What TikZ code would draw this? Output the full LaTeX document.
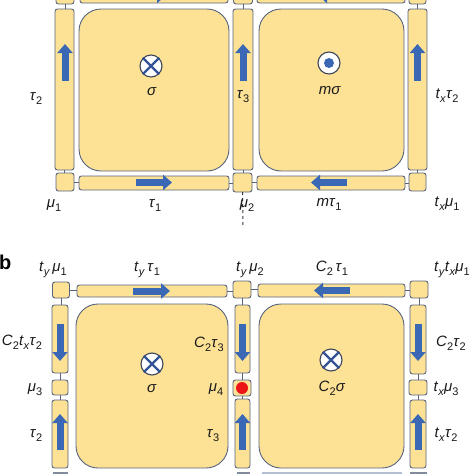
\documentclass[tikz,border=0pt]{standalone}
\usepackage{fontspec}
\setmainfont{Liberation Sans}
\usetikzlibrary{arrows.meta}
\definecolor{boxfill}{RGB}{253,226,150}
\definecolor{edge}{RGB}{88,100,126}
\definecolor{arrowblue}{RGB}{58,104,180}
\definecolor{xblue}{RGB}{52,82,150}
\definecolor{txt}{RGB}{25,25,25}
\definecolor{dotred}{RGB}{236,20,22}
\definecolor{cutgray}{RGB}{130,140,158}
\definecolor{cutlight}{RGB}{178,190,210}
\newcommand\sub[1]{\raisebox{-0.3em}{\fontsize{11}{11}\selectfont #1}}
\newcommand\gi[1]{\textit{#1}}
\begin{document}
\begin{tikzpicture}[x=1pt,y=-1pt,
  box/.style={draw=edge, fill=boxfill, line width=0.9pt, rounded corners=2.5pt, inner sep=0pt, outer sep=0pt},
  bigbox/.style={box, rounded corners=22pt},
  wh/.style 2 args={minimum width=#1pt, minimum height=#2pt},
  conn/.style={draw=edge, line width=0.8pt},
  dashline/.style={draw=edge!55!black, line width=1pt, dash pattern=on 3pt off 3pt},
  blk/.style={draw=arrowblue, line width=7pt, -{Triangle[width=15pt,length=9pt]}},
  lbl/.style={anchor=base, inner sep=0pt, font=\fontsize{15}{15}\selectfont, text=txt},
  otim/.style={circle, draw=edge!70!black, fill=white, line width=1.1pt, minimum size=22pt, inner sep=0pt},
  xline/.style={draw=xblue, line width=2.2pt},
  cut/.style={draw=none, fill=cutgray, inner sep=0pt}
]
\useasboundingbox (0,0) rectangle (474,474);

% ---------------- panel a ----------------
\node[box, wh={18}{18}] (aT1) at (65,-5) {};
\node[box, wh={148}{14}] (aTb1) at (154,-4) {};
\node[box, wh={19}{18}] (aT2) at (243,-5) {};
\node[box, wh={148}{14}] (aTb2) at (331,-4) {};
\node[box, wh={17}{18}] (aT3) at (417.5,-5) {};

\node[box, wh={19}{161}] (aV1) at (64.5,89.5) {};
\node[box, wh={20}{161}] (aV2) at (243,89.5) {};
\node[box, wh={19}{161}] (aV3) at (417.5,89.5) {};

\node[bigbox, wh={150}{162}] (aS1) at (154,90) {};
\node[bigbox, wh={145}{162}] (aS2) at (331.5,90) {};

\node[box, wh={18}{18}] (aB1) at (65,182) {};
\node[box, wh={19}{19}] (aB2) at (242.5,182.5) {};
\node[box, wh={17}{18}] (aB3) at (417.5,182) {};
\node[box, wh={150}{14}] (aH1) at (154,183) {};
\node[box, wh={148}{14}] (aH2) at (331,183) {};

\draw[conn] (aT1.south) -- (aT1.south |- aV1.north);
\draw[conn] (aT2.south) -- (aT2.south |- aV2.north);
\draw[conn] (aT3.south) -- (aT3.south |- aV3.north);
\draw[conn] (aV1.south) -- (aV1.south |- aB1.north);
\draw[conn] (aV2.south) -- (aV2.south |- aB2.north);
\draw[conn] (aV3.south) -- (aV3.south |- aB3.north);
\draw[conn] (aB1.east) -- (aB1.east -| aH1.west);
\draw[conn] (aH1.east) -- (aH1.east -| aB2.west);
\draw[conn] (aB2.east) -- (aB2.east -| aH2.west);
\draw[conn] (aH2.east) -- (aH2.east -| aB3.west);
\coordinate (dEnd) at (243,226);
\draw[dashline] (aB2.south) -- (dEnd);

\draw[blk] (130,-4.5) -- (166,-4.5);
\draw[blk] (354,-4.5) -- (318,-4.5);
\draw[blk] (65,81) -- (65,44);
\draw[blk] (243,81) -- (243,44);
\draw[blk] (417.5,81) -- (417.5,44);
\draw[blk] (136,182.5) -- (172,182.5);
\draw[blk] (347,182.5) -- (311,182.5);

\node[otim] (aO1) at (151,66) {};
\draw[xline] (aO1.north west) -- (aO1.south east);
\draw[xline] (aO1.north east) -- (aO1.south west);
\node[otim] (aO2) at (329,63) {};
\node[circle, fill=arrowblue, minimum size=10pt, inner sep=0pt] (aD2) at (aO2.center) {};

\node[lbl] (la1) at (36,100) {\gi{τ}\sub{2}};
\node[lbl] (la2) at (152,95) {\gi{σ}};
\node[lbl] (la3) at (330,94) {\gi{mσ}};
\node[lbl] (la4) at (243,98) {\gi{τ}\sub{3}};
\node[lbl] (la5) at (447,98) {\gi{t}\sub{\gi{x}}\gi{τ}\sub{2}};
\node[lbl] (la6) at (54,207) {\gi{μ}\sub{1}};
\node[lbl] (la7) at (155,207) {\gi{τ}\sub{1}};
\node[lbl] (la8) at (247,207) {\gi{μ}\sub{2}};
\node[lbl] (la9) at (329,206) {\gi{mτ}\sub{1}};
\node[lbl] (la10) at (447,206) {\gi{t}\sub{\gi{x}}\gi{μ}\sub{1}};

% ---------------- panel b ----------------
\node[anchor=base west, inner sep=0pt, font=\fontsize{20}{20}\selectfont\bfseries, text=black] (blabel) at (-1,269) {b};

\node[box, wh={17}{16}] (bT1) at (61,290) {};
\node[box, wh={18}{17}] (bT2) at (242,289.5) {};
\node[box, wh={18}{17}] (bT3) at (419,289.5) {};
\node[box, wh={150}{12}] (bH1) at (152,291) {};
\node[box, wh={147}{13}] (bH2) at (331.5,290.5) {};

\node[box, wh={16}{68}] (bU1) at (60,339) {};
\node[box, wh={16}{15}] (bM1) at (60,387.5) {};
\node[box, wh={16}{68}] (bL1) at (60,434) {};
\node[box, wh={15}{68}] (bU2) at (242.5,339) {};
\node[box, wh={18}{16}] (bM2) at (242,388) {};
\node[box, wh={15}{69}] (bL2) at (242.5,433.5) {};
\node[box, wh={16}{69}] (bU3) at (418,339.5) {};
\node[box, wh={18}{15}] (bM3) at (418,387.5) {};
\node[box, wh={16}{68}] (bL3) at (418,434) {};

\node[bigbox, wh={152}{164}] (bS1) at (152,386) {};
\node[bigbox, wh={145}{164}] (bS2) at (331.5,386) {};

\node[cut, minimum width=15pt, minimum height=8pt] (c1) at (60.5,476) {};
\node[cut, minimum width=13pt, minimum height=8pt] (c2) at (243.5,476) {};
\node[cut, fill=cutlight, minimum width=140pt, minimum height=8pt] (c3) at (332,476) {};
\node[cut, minimum width=17pt, minimum height=8pt] (c4) at (418.5,476) {};

\draw[conn] (bT1.east) -- (bT1.east -| bH1.west);
\draw[conn] (bH1.east) -- (bH1.east -| bT2.west);
\draw[conn] (bT2.east) -- (bT2.east -| bH2.west);
\draw[conn] (bH2.east) -- (bH2.east -| bT3.west);
\foreach \c in {1,2,3}{
  \draw[conn] (bT\c.south) -- (bT\c.south |- bU\c.north);
  \draw[conn] (bU\c.south) -- (bU\c.south |- bM\c.north);
  \draw[conn] (bM\c.south) -- (bM\c.south |- bL\c.north);
}

\draw[blk] (133,291) -- (170,291);
\draw[blk] (350,290.5) -- (314,290.5);
\draw[blk] (60,324) -- (60,361);
\draw[blk] (60,450) -- (60,414);
\draw[blk] (242.5,324) -- (242.5,361);
\draw[blk] (242.5,450) -- (242.5,414);
\draw[blk] (418,324) -- (418,361);
\draw[blk] (418,450) -- (418,414);

\node[otim] (bO1) at (152,364) {};
\draw[xline] (bO1.north west) -- (bO1.south east);
\draw[xline] (bO1.north east) -- (bO1.south west);
\node[otim] (bO2) at (331,360) {};
\draw[xline] (bO2.north west) -- (bO2.south east);
\draw[xline] (bO2.north east) -- (bO2.south west);
\node[circle, fill=dotred, minimum size=12pt, inner sep=0pt] (bR) at (242,388) {};

\node[lbl] (lb1) at (53,271) {\gi{t}\sub{\gi{y}}\,\gi{μ}\sub{1}};
\node[lbl] (lb2) at (147,271) {\gi{t}\sub{\gi{y}}\,\gi{τ}\sub{1}};
\node[lbl] (lb3) at (250,271) {\gi{t}\sub{\gi{y}}\,\gi{μ}\sub{2}};
\node[lbl] (lb4) at (332,271) {\gi{C}\sub{2}\,\gi{τ}\sub{1}};
\node[lbl] (lb5) at (452,271) {\gi{t}\sub{\gi{y}}\gi{t}\sub{\gi{x}}\gi{μ}\sub{1}};
\node[lbl] (lb6) at (22,345) {\gi{C}\sub{2}\gi{t}\sub{\gi{x}}\gi{τ}\sub{2}};
\node[lbl] (lb7) at (35,391) {\gi{μ}\sub{3}};
\node[lbl] (lb8) at (36,437) {\gi{τ}\sub{2}};
\node[lbl] (lb9) at (209,347) {\gi{C}\sub{2}\gi{τ}\sub{3}};
\node[lbl] (lb10) at (216,391) {\gi{μ}\sub{4}};
\node[lbl] (lb11) at (213,437) {\gi{τ}\sub{3}};
\node[lbl] (lb12) at (152,392) {\gi{σ}};
\node[lbl] (lb13) at (332,391) {\gi{C}\sub{2}\gi{σ}};
\node[lbl] (lb14) at (451,346) {\gi{C}\sub{2}\gi{τ}\sub{2}};
\node[lbl] (lb15) at (446,391) {\gi{t}\sub{\gi{x}}\gi{μ}\sub{3}};
\node[lbl] (lb16) at (446,437) {\gi{t}\sub{\gi{x}}\gi{τ}\sub{2}};
\end{tikzpicture}
\end{document}
